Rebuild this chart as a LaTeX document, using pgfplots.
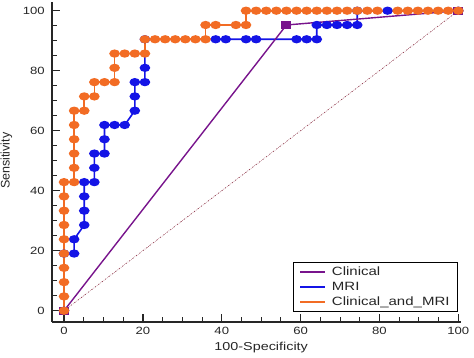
\documentclass[border=0pt]{standalone}
\usepackage{fontspec}
\setmainfont{Liberation Sans}[FakeStretch=1.25]
\newfontfamily\ylabfont{Liberation Sans}
\usepackage{pgfplots}
\pgfplotsset{compat=1.18}
\definecolor{cOrange}{RGB}{242,108,36}
\definecolor{cBlue}{RGB}{20,20,230}
\definecolor{cPurple}{RGB}{120,20,140}
\definecolor{cDiag}{RGB}{140,50,70}
\begin{document}
\begin{tikzpicture}
\begin{axis}[
  scale only axis, width=408.5pt, height=320.1pt,
  xmin=-3, xmax=100.6, ymin=-3.7, ymax=103,
  axis lines=left, axis line style={-, line width=1.5pt, black!85},
  xtick={0,20,...,100}, ytick={0,20,...,100},
  minor x tick num=3, minor y tick num=3,
  tick align=inside,
  major tick length=8pt, minor tick length=4.5pt,
  every major tick/.append style={line width=1.3pt, black!85},
  every minor tick/.append style={line width=0.9pt, black!85},
  /pgf/number format/assume math mode=true,
  tick label style={font=\fontsize{10.5}{12}\selectfont, text=black!85},
  yticklabel style={xshift=-4pt},
  xticklabel style={yshift=-2pt},
  xlabel={100-Specificity},
  xlabel style={at={(axis description cs:0.5116,-0.0819)}, anchor=center, font=\fontsize{11.5}{13}\selectfont, text=black!85},
  ylabel={\ylabfont Sensitivity},
  ylabel style={at={(axis description cs:-0.112,0.503)}, anchor=center, font=\fontsize{12.5}{14}\selectfont, text=black!85},
  legend cell align=left,
  legend image code/.code={\draw[#1] (0pt,0pt) -- (25pt,0pt); \path (29pt,0pt);},
  legend style={at={(axis cs:99.9,-0.4)}, anchor=south east, draw=black, line width=0.8pt,
    font=\fontsize{12}{13}\selectfont, inner xsep=6pt, inner ysep=2pt, row sep=0pt,
    nodes={inner sep=2pt, text height=8.5pt, text depth=2.5pt, text=black!85}},
]
\addlegendimage{cPurple, line width=1.6pt}
\addlegendentry{Clinical}
\addlegendimage{cBlue, line width=1.6pt}
\addlegendentry{MRI}
\addlegendimage{cOrange, line width=1.6pt}
\addlegendentry{Clinical\_and\_MRI\hspace{13pt}}

% diagonal reference
\addplot[forget plot, cDiag, line width=0.6pt, dash pattern=on 1.5pt off 1.2pt on 0.4pt off 1.2pt] coordinates {(0,0) (100,100)};

% MRI
\addplot[forget plot, cBlue, line width=1.6pt, mark=*, mark size=3.3pt, mark options={xscale=1.35, solid, fill=cBlue, draw=cBlue}] coordinates {
(0,0) (0,19.048) (2.564,19.048) (2.564,23.810) (5.128,28.571) (5.128,33.333) (5.128,38.095) (5.128,42.857)
(7.692,42.857) (7.692,47.619) (7.692,52.381) (10.256,52.381) (10.256,57.143) (10.256,61.905)
(12.821,61.905) (15.385,61.905) (17.949,66.667) (17.949,71.429) (17.949,76.190) (20.513,76.190)
(20.513,80.952) (20.513,90.476) (38.462,90.476) (41.026,90.476) (46.154,90.476) (48.718,90.476)
(58.974,90.476) (61.538,90.476) (64.103,90.476) (64.103,95.238) (66.667,95.238) (69.231,95.238)
(71.795,95.238) (74.359,95.238) (74.359,100) (82.051,100) (100,100)
};

% Clinical
\addplot[forget plot, cPurple, line width=1.4pt, mark=square*, mark size=3.3pt, mark options={xscale=1.3, solid, fill=cPurple, draw=cPurple}] coordinates {
(0,0) (56.410,95.238) (100,100)
};

% Clinical and MRI
\addplot[forget plot, cOrange, line width=1.6pt, mark=*, mark size=3.3pt, mark options={xscale=1.35, solid, fill=cOrange, draw=cOrange}] coordinates {
(0,0) (0,4.762) (0,9.524) (0,14.286) (0,19.048) (0,23.810) (0,28.571) (0,33.333) (0,38.095) (0,42.857)
(2.564,42.857) (2.564,47.619) (2.564,52.381) (2.564,57.143) (2.564,61.905) (2.564,66.667)
(5.128,66.667) (5.128,71.429) (7.692,71.429) (7.692,76.190) (10.256,76.190) (12.821,76.190)
(12.821,80.952) (12.821,85.714) (15.385,85.714) (17.949,85.714) (20.513,85.714) (20.513,90.476)
(23.077,90.476) (25.641,90.476) (28.205,90.476) (30.769,90.476) (33.333,90.476) (35.897,90.476)
(35.897,95.238) (38.462,95.238) (43.590,95.238) (46.154,95.238) (46.154,100)
(48.718,100) (51.282,100) (53.846,100) (56.410,100) (58.974,100) (61.538,100) (64.103,100)
(66.667,100) (69.231,100) (71.795,100) (74.359,100) (76.923,100) (79.487,100)
(84.615,100) (87.179,100) (89.744,100) (92.308,100) (94.872,100) (97.436,100) (100,100)
};

\coordinate (ll) at (rel axis cs:0,0);
\end{axis}
\pgfresetboundingbox
\path[use as bounding box] (ll) ++(-52.2pt,-35.2pt) rectangle ++(474pt,357pt);
\end{tikzpicture}
\end{document}
